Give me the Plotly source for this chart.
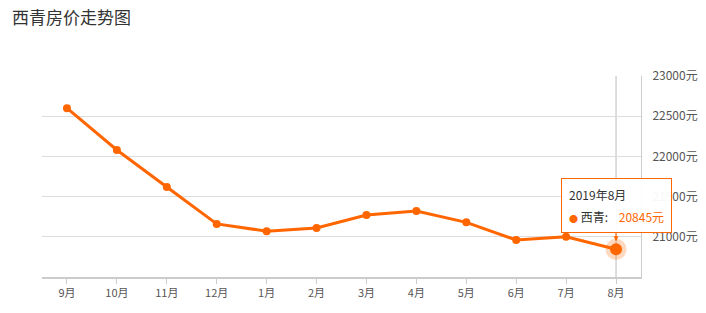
import plotly.graph_objects as go

title = "西青房价走势图"
series_name = "西青"
months = ["9月", "10月", "11月", "12月", "1月", "2月", "3月", "4月", "5月", "6月", "7月", "8月"]
prices = [22600, 22080, 21620, 21160, 21070, 21110, 21270, 21320, 21180, 20960, 21000, 20845]
tooltip_title = "2019年8月"
y_ticks = [21000, 21500, 22000, 22500, 23000]
y_tick_text = [f"{v}元" for v in y_ticks]
y_range = [20500, 23000]

LINE = "#ff6600"
FONT = "Noto Sans CJK SC, Microsoft YaHei, sans-serif"

fig = go.Figure()
fig.add_trace(go.Scatter(
    x=months, y=prices, mode="lines+markers",
    line=dict(color=LINE, width=3),
    marker=dict(color=LINE, size=8),
    name=series_name, hoverinfo="skip", showlegend=False,
))
# highlighted last point (halo + dot)
fig.add_trace(go.Scatter(
    x=[months[-1]], y=[prices[-1]], mode="markers",
    marker=dict(color="rgba(255,102,0,0.25)", size=21),
    hoverinfo="skip", showlegend=False,
))
fig.add_trace(go.Scatter(
    x=[months[-1]], y=[prices[-1]], mode="markers",
    marker=dict(color=LINE, size=12),
    hoverinfo="skip", showlegend=False,
))

# crosshair
fig.add_shape(type="line", xref="x", yref="paper",
              x0=months[-1], x1=months[-1], y0=0, y1=1,
              line=dict(color="#bbbbbb", width=1), layer="below")

fs = "font-size:12px"
fig.add_annotation(
    x=months[-1], y=prices[-1], xref="x", yref="y",
    text=(f"<span style='{fs}'>{tooltip_title}</span><br>"
          f"<span style='font-size:9px;color:{LINE}'>●</span>"
          f"<span style='{fs}'> {series_name}:&nbsp;&nbsp;&nbsp;&nbsp;</span>"
          f"<span style='{fs};color:{LINE}'>{prices[-1]}元</span>"),
    showarrow=True, ax=0, ay=-44,
    arrowhead=2, arrowsize=1, arrowwidth=1, arrowcolor=LINE, standoff=8,
    align="left", bgcolor="rgba(255,255,255,0.95)", bordercolor=LINE,
    borderwidth=1, borderpad=7,
    font=dict(family=FONT, size=17, color="#333333"),
)

fig.update_layout(
    width=706, height=313,
    margin=dict(l=42, r=65, t=76, b=36),
    paper_bgcolor="white", plot_bgcolor="white",
    font=dict(family=FONT, size=12, color="#555555"),
    title=dict(text=title, x=12/706, xanchor="left", xref="container",
               y=1 - 18/313, yanchor="middle", yref="container",
               font=dict(family=FONT, size=17, color="#333333")),
    xaxis=dict(
        type="category", range=[-0.5, len(months) - 0.5],
        showgrid=False, showline=True, linecolor="#cccccc", linewidth=2,
        ticks="outside", ticklen=5, tickcolor="#cccccc", tickwidth=1,
        tickfont=dict(size=11, color="#555555"), zeroline=False,
        automargin=False,
    ),
    yaxis=dict(
        side="right", range=y_range, tickvals=y_ticks, ticktext=y_tick_text,
        showgrid=True, gridcolor="#dddddd", gridwidth=1,
        showline=True, linecolor="#cccccc", linewidth=1,
        ticks="", ticklabelstandoff=8, automargin=False,
        tickfont=dict(size=12, color="#555555"), zeroline=False,
    ),
)

fig.write_html("out.html")
